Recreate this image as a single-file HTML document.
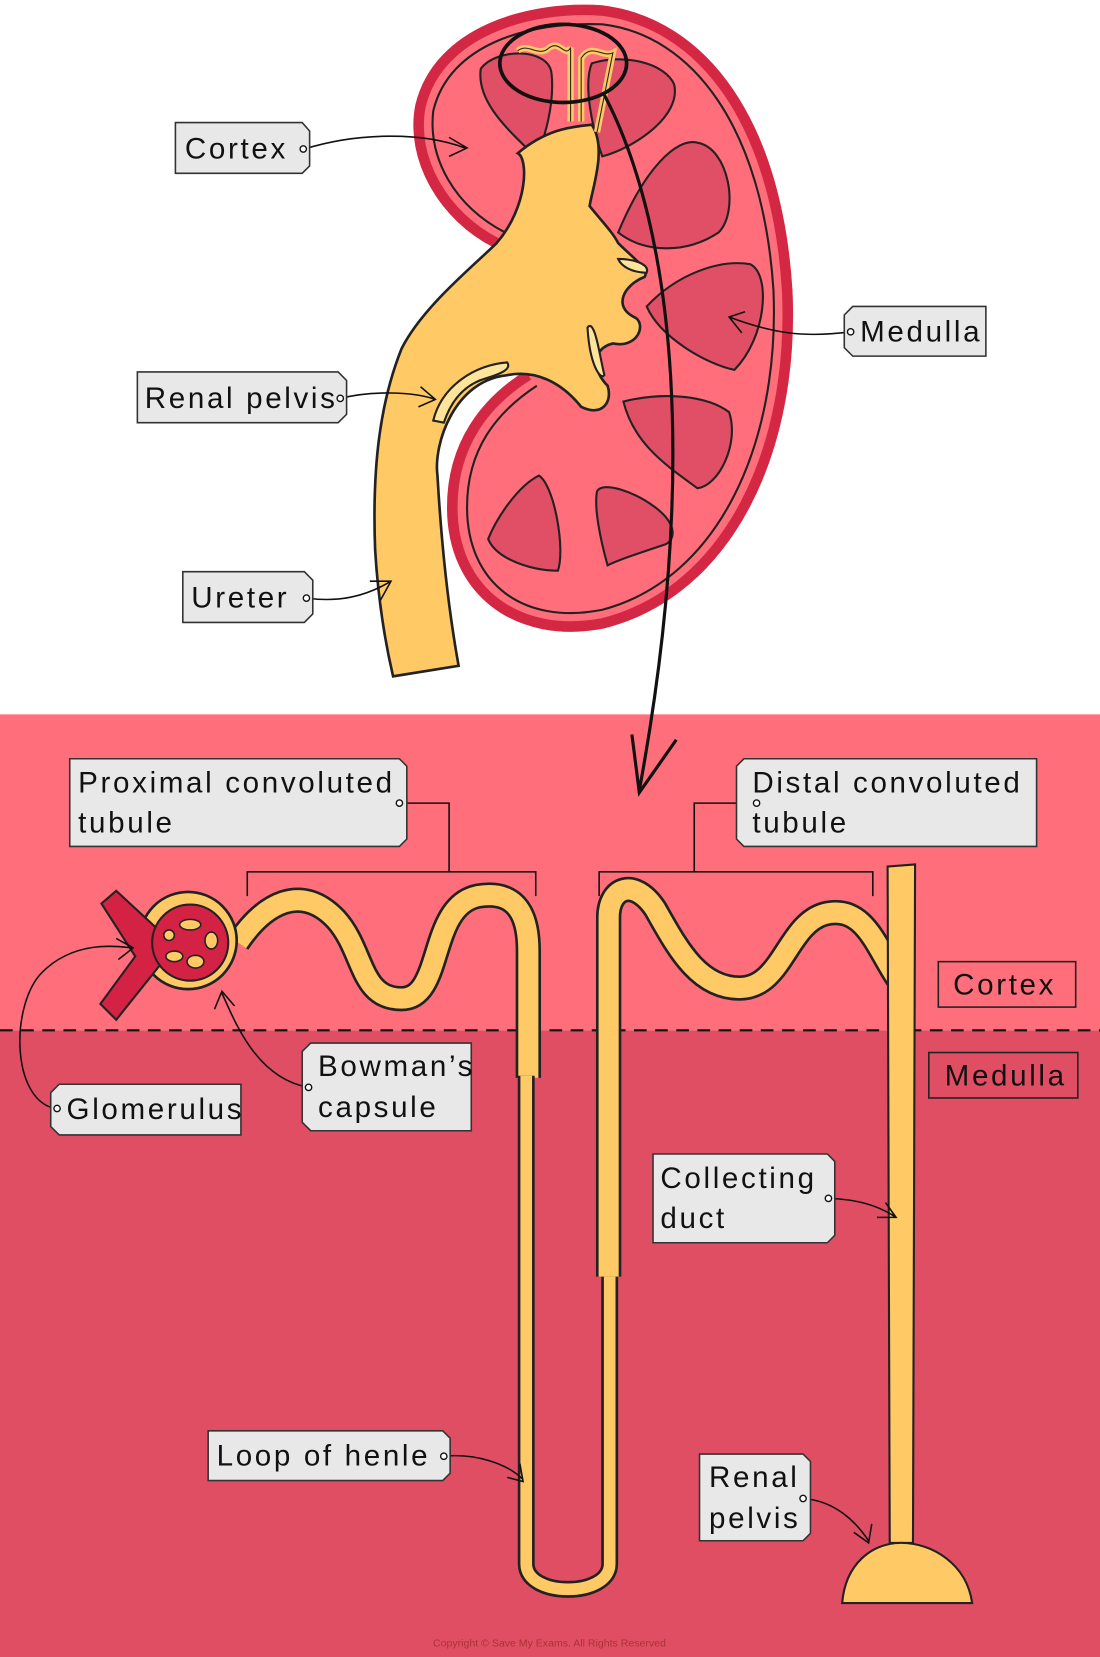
<!DOCTYPE html>
<html><head><meta charset="utf-8"><style>
html,body{margin:0;padding:0;background:#fff;}
svg{display:block;}
text{font-family:"Liberation Sans",sans-serif;font-size:28px;fill:#111;letter-spacing:2.5px;}
</style></head><body>
<svg width="1100" height="1657" viewBox="0 0 1041 1568" preserveAspectRatio="none" xmlns="http://www.w3.org/2000/svg">
<rect x="0" y="0" width="1041" height="676" fill="#fff"/>
<rect x="0" y="676" width="1041" height="299" fill="#FF6F7B"/>
<rect x="0" y="975" width="1041" height="593" fill="#E04E64"/>
<line x1="0" y1="975" x2="1041" y2="975" stroke="#111" stroke-width="2" stroke-dasharray="12,8"/>

<path d="M470,230 C420,205 388,150 398,100 C415,30 500,5 570,10 C665,22 735,115 745,275 C752,425 690,560 570,590 C490,605 428,560 428,480 C428,420 460,380 500,355 Z" fill="#FF6E7A" stroke="#222" stroke-width="2.5"/>
<path d="M470,230 C420,205 388,150 398,100 C415,30 500,5 570,10 C665,22 735,115 745,275 C752,425 690,560 570,590 C490,605 428,560 428,480 C428,420 460,380 500,355" fill="none" stroke="#D42743" stroke-width="10"/>
<path d="M478,220 C430,195 405,150 410,105 C425,42 500,20 570,23 C655,33 722,120 732,275 C738,420 680,548 570,577 C495,592 442,552 442,480 C442,425 470,390 508,365" fill="none" stroke="#222" stroke-width="2"/>
<g fill="#E04F65" stroke="#222" stroke-width="2">
<path d="M455,65 C470,45 520,45 522,70 C525,100 515,130 508,150 C490,130 450,100 455,65 Z"/>
<path d="M560,60 C590,50 630,60 638,80 C645,110 600,140 570,148 C560,120 552,80 560,60 Z"/>
<path d="M585,220 C610,160 640,130 660,135 C690,140 700,200 680,220 C650,240 610,240 585,220 Z"/>
<path d="M612,290 C640,260 680,245 710,250 C730,260 725,320 695,350 C670,345 625,320 612,290 Z"/>
<path d="M590,380 C630,370 670,375 690,390 C700,420 680,460 660,462 C630,440 600,420 590,380 Z"/>
<path d="M462,510 C470,490 490,460 510,450 C525,460 535,520 528,540 C505,540 470,530 462,510 Z"/>
<path d="M565,465 C570,455 600,465 620,480 C640,495 640,510 630,515 C600,525 585,530 575,535 C568,510 562,480 565,465 Z"/>
</g>
<path d="M380,330 C400,290 450,250 470,230 C500,195 500,150 490,145 C520,120 545,120 560,118 C575,140 560,180 558,195 C570,210 580,220 585,230 C600,245 615,255 610,262 C590,270 580,290 600,300 C612,305 605,330 580,325 C560,330 560,350 575,365 C580,380 570,395 550,385 C530,360 505,350 480,355 C430,360 410,420 414,450 C418,520 425,580 434,630 L372,640 C365,610 358,570 355,520 C352,440 360,380 380,330 Z" fill="#FFC966" stroke="#222" stroke-width="2.5"/>
<path d="M410,398 C418,365 450,345 480,343 C485,350 470,355 460,358 C435,365 425,385 420,400 Z" fill="#FFE49A" stroke="#222" stroke-width="2"/>
<path d="M556,310 C563,300 568,340 572,355 C568,360 558,345 556,310 Z" fill="#FFE49A" stroke="#222" stroke-width="2"/>
<path d="M585,245 C600,245 615,250 612,258 C598,258 588,252 585,245 Z" fill="#FFE49A" stroke="#222" stroke-width="2"/>
<path d="M490,48 C500,40 510,55 520,45 C530,38 535,55 540,45 L540,115 M550,115 L550,55 C560,40 570,55 580,50 L565,125" fill="none" stroke="#FFC966" stroke-width="6"/>
<path d="M490,48 C500,40 510,55 520,45 C530,38 535,55 540,45 L540,115 M550,115 L550,55 C560,40 570,55 580,50 L565,125" fill="none" stroke="#222" stroke-width="1"/>
<ellipse cx="533" cy="60" rx="60" ry="37" fill="none" stroke="#111" stroke-width="3.5"/>
<path d="M572,90 C640,220 660,450 605,748" fill="none" stroke="#111" stroke-width="3"/>
<path d="M598,695 L605,750 L640,700" fill="none" stroke="#111" stroke-width="3"/>

<g fill="none" stroke-linecap="butt">
<path d="M225,892 C250,855 285,835 318,870 C345,900 340,945 380,945 C420,945 405,858 452,848 C497,840 500,880 500,900 L500,1020" stroke="#222" stroke-width="24"/>
<path d="M225,892 C250,855 285,835 318,870 C345,900 340,945 380,945 C420,945 405,858 452,848 C497,840 500,880 500,900 L500,1020" stroke="#FFC966" stroke-width="19"/>
<path d="M498,1018 L498,1480 C498,1512 577,1512 577,1480 L577,1205" stroke="#222" stroke-width="16"/>
<path d="M498,1018 L498,1480 C498,1512 577,1512 577,1480 L577,1205" stroke="#FFC966" stroke-width="11"/>
<path d="M576,1208 L576,868 C576,840 600,830 620,860 C640,895 660,935 700,935 C740,935 745,875 780,865 C820,855 830,900 852,930" stroke="#222" stroke-width="24"/>
<path d="M576,1208 L576,868 C576,840 600,830 620,860 C640,895 660,935 700,935 C740,935 745,875 780,865 C820,855 830,900 852,930" stroke="#FFC966" stroke-width="19"/>
</g>
<path d="M840,820 L866,818 L864,1460 L842,1460 Z" fill="#FFC966" stroke="#222" stroke-width="2"/>
<path d="M797,1517 C800,1480 825,1460 853,1460 C882,1460 915,1480 920,1517 Z" fill="#FFC966" stroke="#222" stroke-width="2"/>
<circle cx="178" cy="890" r="46" fill="#FFC966" stroke="#222" stroke-width="2.5"/>
<path d="M96,855 L110,843 L150,880 L165,870 L180,885 L150,915 L110,965 L95,950 L128,905 Z" fill="#D42245" stroke="#222" stroke-width="2"/>
<circle cx="180" cy="892" r="36" fill="#D42245" stroke="#222" stroke-width="2"/>
<g fill="#FFC966" stroke="#222" stroke-width="1.5">
<ellipse cx="180" cy="875" rx="10" ry="5"/><ellipse cx="200" cy="890" rx="6" ry="8"/><ellipse cx="165" cy="905" rx="8" ry="5"/><ellipse cx="185" cy="910" rx="8" ry="6"/><ellipse cx="160" cy="885" rx="5" ry="5"/>
</g>

<g fill="none" stroke="#111" stroke-width="1.5">
<path d="M288,141 C340,125 400,125 440,140 M425,130 L442,140 L425,148"/>
<path d="M322,377 C350,370 390,370 412,378 M398,366 L412,378 L396,385"/>
<path d="M290,566 C320,570 345,565 370,550 M350,550 L370,550 L360,568"/>
<path d="M805,314 C760,320 730,315 690,300 M705,295 L690,300 L702,315"/>
<path d="M380,760 L425,760 L425,825 M234,848 L234,825 L507,825 L507,848"/>
<path d="M718,760 L657,760 L657,825 M567,848 L567,825 L826,825 L826,848"/>
<path d="M52,1049 C10,1040 10,950 40,920 C70,890 110,895 125,897 M110,888 L126,897 L112,908"/>
<path d="M292,1029 C240,1020 220,960 210,940 M203,955 L210,938 L222,952"/>
<path d="M420,1378 C450,1375 480,1385 495,1400 M480,1398 L495,1402 L492,1385"/>
<path d="M785,1134 C810,1135 830,1140 848,1152 M830,1152 L848,1152 L838,1138"/>
<path d="M760,1418 C790,1420 810,1440 822,1458 M808,1450 L822,1460 L825,1442"/>
</g>

<g stroke="#333" stroke-width="1.5">
<path d="M166,116 L286,116 L293,124 L293,157 L286,164 L166,164 Z" fill="#E8E8E8"/>
<path d="M130,352 L320,352 L328,360 L328,392 L320,400 L130,400 Z" fill="#E8E8E8"/>
<path d="M173,541 L288,541 L296,549 L296,581 L288,589 L173,589 Z" fill="#E8E8E8"/>
<path d="M807,290 L933,290 L933,337 L807,337 L799,329 L799,298 Z" fill="#E8E8E8"/>
<path d="M66,718 L378,718 L385,725 L385,794 L378,801 L66,801 Z" fill="#E8E8E8"/>
<path d="M704,718 L981,718 L981,801 L704,801 L697,794 L697,725 Z" fill="#E8E8E8"/>
<rect x="888" y="910" width="130" height="43" fill="none" stroke="#222"/>
<rect x="879" y="996" width="141" height="43" fill="none" stroke="#222"/>
<path d="M56,1026 L228,1026 L228,1074 L56,1074 L48,1066 L48,1034 Z" fill="#E8E8E8"/>
<path d="M294,987 L446,987 L446,1070 L294,1070 L286,1062 L286,995 Z" fill="#E8E8E8"/>
<path d="M618,1092 L783,1092 L790,1099 L790,1169 L783,1176 L618,1176 Z" fill="#E8E8E8"/>
<path d="M197,1354 L419,1354 L426,1361 L426,1394 L419,1401 L197,1401 Z" fill="#E8E8E8"/>
<path d="M662,1376 L760,1376 L767,1383 L767,1451 L760,1458 L662,1458 Z" fill="#E8E8E8"/>
</g>
<g fill="#fff" stroke="#111" stroke-width="1.3">
<circle cx="287" cy="141" r="3"/><circle cx="322" cy="377" r="3"/><circle cx="290" cy="566" r="3"/><circle cx="805" cy="314" r="3"/><circle cx="378" cy="760" r="3"/><circle cx="716" cy="760" r="3"/><circle cx="54" cy="1049" r="3"/><circle cx="292" cy="1029" r="3"/><circle cx="784" cy="1134" r="3"/><circle cx="420" cy="1378" r="3"/><circle cx="760" cy="1418" r="3"/>
</g>
<text x="175" y="150">Cortex</text>
<text x="137" y="386">Renal pelvis</text>
<text x="181" y="575">Ureter</text>
<text x="814" y="323">Medulla</text>
<text x="74" y="750">Proximal convoluted</text>
<text x="74" y="788">tubule</text>
<text x="712" y="750">Distal convoluted</text>
<text x="712" y="788">tubule</text>
<text x="902" y="941">Cortex</text>
<text x="894" y="1027">Medulla</text>
<text x="63" y="1059">Glomerulus</text>
<text x="301" y="1018">Bowman’s</text>
<text x="301" y="1057">capsule</text>
<text x="625" y="1124">Collecting</text>
<text x="625" y="1162">duct</text>
<text x="205" y="1387">Loop of henle</text>
<text x="671" y="1407">Renal</text>
<text x="671" y="1446">pelvis</text>
<text x="520" y="1558" style="font-size:10px;fill:#a33;letter-spacing:0" text-anchor="middle">Copyright © Save My Exams. All Rights Reserved</text>
</svg>
</body></html>
